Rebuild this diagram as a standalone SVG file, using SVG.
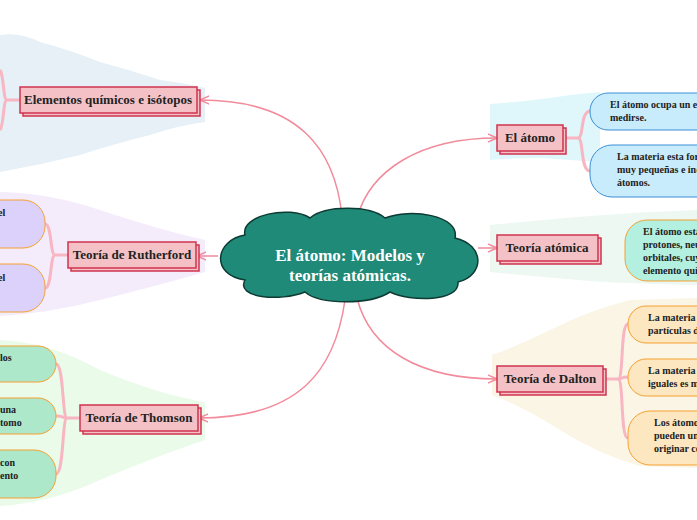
<svg xmlns="http://www.w3.org/2000/svg" width="697" height="520" viewBox="0 0 697 520">
<defs>
<style>
text{font-family:"Liberation Serif","DejaVu Serif",serif;font-weight:bold;fill:#222}
.topic{fill:#f4c2c6;stroke:#d0334f;stroke-width:1.5}
.tt{font-size:13px}
.st{font-size:10px}
.conn{fill:none;stroke:#f28b9b;stroke-width:1.5}
.br{fill:none;stroke:#f7b6c1;stroke-width:3}
</style>
<marker id="ar" viewBox="0 0 10 10" refX="9" refY="5" markerWidth="7" markerHeight="7" orient="auto"><path d="M0,1 L9,5 L0,9" fill="none" stroke="#f28b9b" stroke-width="1.5"/></marker>
</defs>
<rect width="697" height="520" fill="#fff"/>
<!-- backgrounds -->
<path d="M0,35 Q20,32 40,42 Q70,50 100,62 Q130,70 160,80 Q190,84 205,88 L205,122 Q180,125 150,135 Q110,145 80,155 Q40,165 0,172 Z" fill="#e6f0f6"/>
<path d="M490,104 Q520,102 550,98 Q575,94 600,92 L600,162 Q570,160 540,158 Q515,158 490,160 Z" fill="#dff7fb"/>
<path d="M490,225 Q540,220 590,216 Q640,212 697,210 L697,285 Q640,284 590,281 Q540,277 490,272 Z" fill="#eef8f3"/>
<path d="M492,355 Q520,345 550,330 Q590,310 630,300 L697,298 L697,468 L640,466 Q600,455 560,430 Q520,405 492,395 Z" fill="#fbf5e6"/>
<path d="M0,192 Q50,193 100,210 Q160,230 205,240 L205,272 Q160,285 100,300 Q50,313 0,316 Z" fill="#f5ecfb"/>
<path d="M0,340 Q50,342 100,370 Q160,395 205,402 L205,440 Q160,455 100,480 Q50,503 0,506 Z" fill="#eafbea"/>
<!-- connectors -->
<g id="connectors">
<path class="conn" d="M342,216 C335,150 300,100 200,100" marker-end="url(#ar)"/>
<path class="conn" d="M357,218 C370,170 420,138 497,138" marker-end="url(#ar)"/>
<path class="conn" d="M478,248 L497,248" marker-end="url(#ar)"/>
<path class="conn" d="M357,298 C370,350 420,379 497,379" marker-end="url(#ar)"/>
<path class="conn" d="M218,256 L197,256" marker-end="url(#ar)"/>
<path class="conn" d="M345,300 C335,370 300,418 199,418" marker-end="url(#ar)"/>
<path class="br" d="M563,138 L578,138 M578,138 C584,138 580,112 590,111 M578,138 C584,138 580,171 590,171"/>
<path class="br" d="M603,379 L618,379 M618,379 C624,379 620,324 628,324 M618,379 C624,379 620,377 628,377 M618,379 C624,379 620,438 628,438"/>
<path class="br" d="M68,255 L55,255 M55,255 C50,255 52,224 45,224 M55,255 C50,255 52,288 45,288"/>
<path class="br" d="M80,418 L67,418 M67,418 C62,418 64,364 56,364 M67,418 C62,418 64,416 56,416 M67,418 C62,418 64,474 56,474"/>
<path class="br" d="M20,100 L7,100 M7,100 C3,100 4,75 0,70 M7,100 C3,100 4,125 0,130"/>
</g>
<!-- central -->
<g id="central">
<path d="M245,235 C240,215 290,205 310,218 C325,205 370,205 385,218 C410,208 460,215 455,238 C485,245 485,275 458,282 C460,302 410,302 390,292 C370,305 320,305 305,292 C280,302 235,298 245,280 C210,275 215,240 245,235 Z" fill="#1f8a78" stroke="#0d3b33" stroke-width="1.5"/>
<text x="350" y="261" text-anchor="middle" style="fill:#fff;font-size:17px">El átomo: Modelos y</text>
<text x="350" y="281" text-anchor="middle" style="fill:#fff;font-size:17px">teorías atómicas.</text>
</g>
<!-- topics -->
<g id="elementos"><rect class="topic" x="23" y="90" width="177" height="26"/><rect class="topic" x="20" y="87" width="177" height="26"/><text class="tt" x="108" y="104" text-anchor="middle">Elementos químicos e isótopos</text></g>
<g id="el-atomo"><rect class="topic" x="500" y="128" width="66" height="26"/><rect class="topic" x="497" y="125" width="66" height="26"/><text class="tt" x="530" y="142" text-anchor="middle">El átomo</text></g>
<g id="teoria-atomica"><rect class="topic" x="500" y="238" width="101" height="26"/><rect class="topic" x="497" y="235" width="101" height="26"/><text class="tt" x="547" y="252" text-anchor="middle">Teoría atómica</text></g>
<g id="dalton"><rect class="topic" x="500" y="369" width="106" height="26"/><rect class="topic" x="497" y="366" width="106" height="26"/><text class="tt" x="550" y="383" text-anchor="middle">Teoría de Dalton</text></g>
<g id="rutherford"><rect class="topic" x="71" y="245" width="128" height="26"/><rect class="topic" x="68" y="242" width="128" height="26"/><text class="tt" x="132" y="259" text-anchor="middle">Teoría de Rutherford</text></g>
<g id="thomson"><rect class="topic" x="83" y="408" width="118" height="26"/><rect class="topic" x="80" y="405" width="118" height="26"/><text class="tt" x="139" y="422" text-anchor="middle">Teoría de Thomson</text></g>
<!-- subtopics -->
<g id="s-atomo1"><rect x="590" y="93" width="140" height="37" rx="18" fill="#c8ecfb" stroke="#3b8fd6"/><text class="st" x="610" y="108">El átomo ocupa un espacio y puede</text><text class="st" x="610" y="121">medirse.</text></g>
<g id="s-atomo2"><rect x="590" y="145" width="140" height="52" rx="22" fill="#c8ecfb" stroke="#3b8fd6"/><text class="st" x="617" y="160">La materia esta formada por partículas</text><text class="st" x="617" y="173">muy pequeñas e indivisibles llamadas</text><text class="st" x="617" y="186">átomos.</text></g>
<g id="s-teoria"><rect x="625" y="220" width="110" height="61" rx="22" fill="#b3f0df" stroke="#f5a030"/><text class="st" x="643" y="235">El átomo está formado por</text><text class="st" x="643" y="248">protones, neutrones y electrones</text><text class="st" x="643" y="261">orbitales, cuyo número varía según el</text><text class="st" x="643" y="274">elemento químico.</text></g>
<g id="s-dalton1"><rect x="628" y="306" width="110" height="37" rx="18" fill="#fde7c0" stroke="#f5a030"/><text class="st" x="648" y="321">La materia está formada por</text><text class="st" x="648" y="334">partículas de átomos.</text></g>
<g id="s-dalton2"><rect x="628" y="359" width="110" height="37" rx="18" fill="#fde7c0" stroke="#f5a030"/><text class="st" x="648" y="374">La materia formada por átomos</text><text class="st" x="648" y="387">iguales es materia.</text></g>
<g id="s-dalton3"><rect x="628" y="411" width="110" height="54" rx="22" fill="#fde7c0" stroke="#f5a030"/><text class="st" x="654" y="426">Los átomos de diferentes</text><text class="st" x="654" y="439">pueden unirse para</text><text class="st" x="654" y="452">originar compuestos.</text></g>
<g id="s-ruth1"><rect x="-60" y="200" width="105" height="48" rx="22" fill="#dcd1fa" stroke="#f5a030"/><text class="st" x="-2" y="216">el</text></g>
<g id="s-ruth2"><rect x="-60" y="264" width="105" height="48" rx="22" fill="#dcd1fa" stroke="#f5a030"/><text class="st" x="-2" y="281">el</text></g>
<g id="s-thom1"><rect x="-60" y="346" width="116" height="36" rx="18" fill="#ade8cb" stroke="#f5a030"/><text class="st" x="0" y="361">los</text></g>
<g id="s-thom2"><rect x="-60" y="398" width="116" height="36" rx="18" fill="#ade8cb" stroke="#f5a030"/><text class="st" x="0" y="413">una</text><text class="st" x="0" y="426">tomo</text></g>
<g id="s-thom3"><rect x="-60" y="450" width="116" height="48" rx="22" fill="#ade8cb" stroke="#f5a030"/><text class="st" x="0" y="466">con</text><text class="st" x="0" y="479">ento</text></g>
</svg>
